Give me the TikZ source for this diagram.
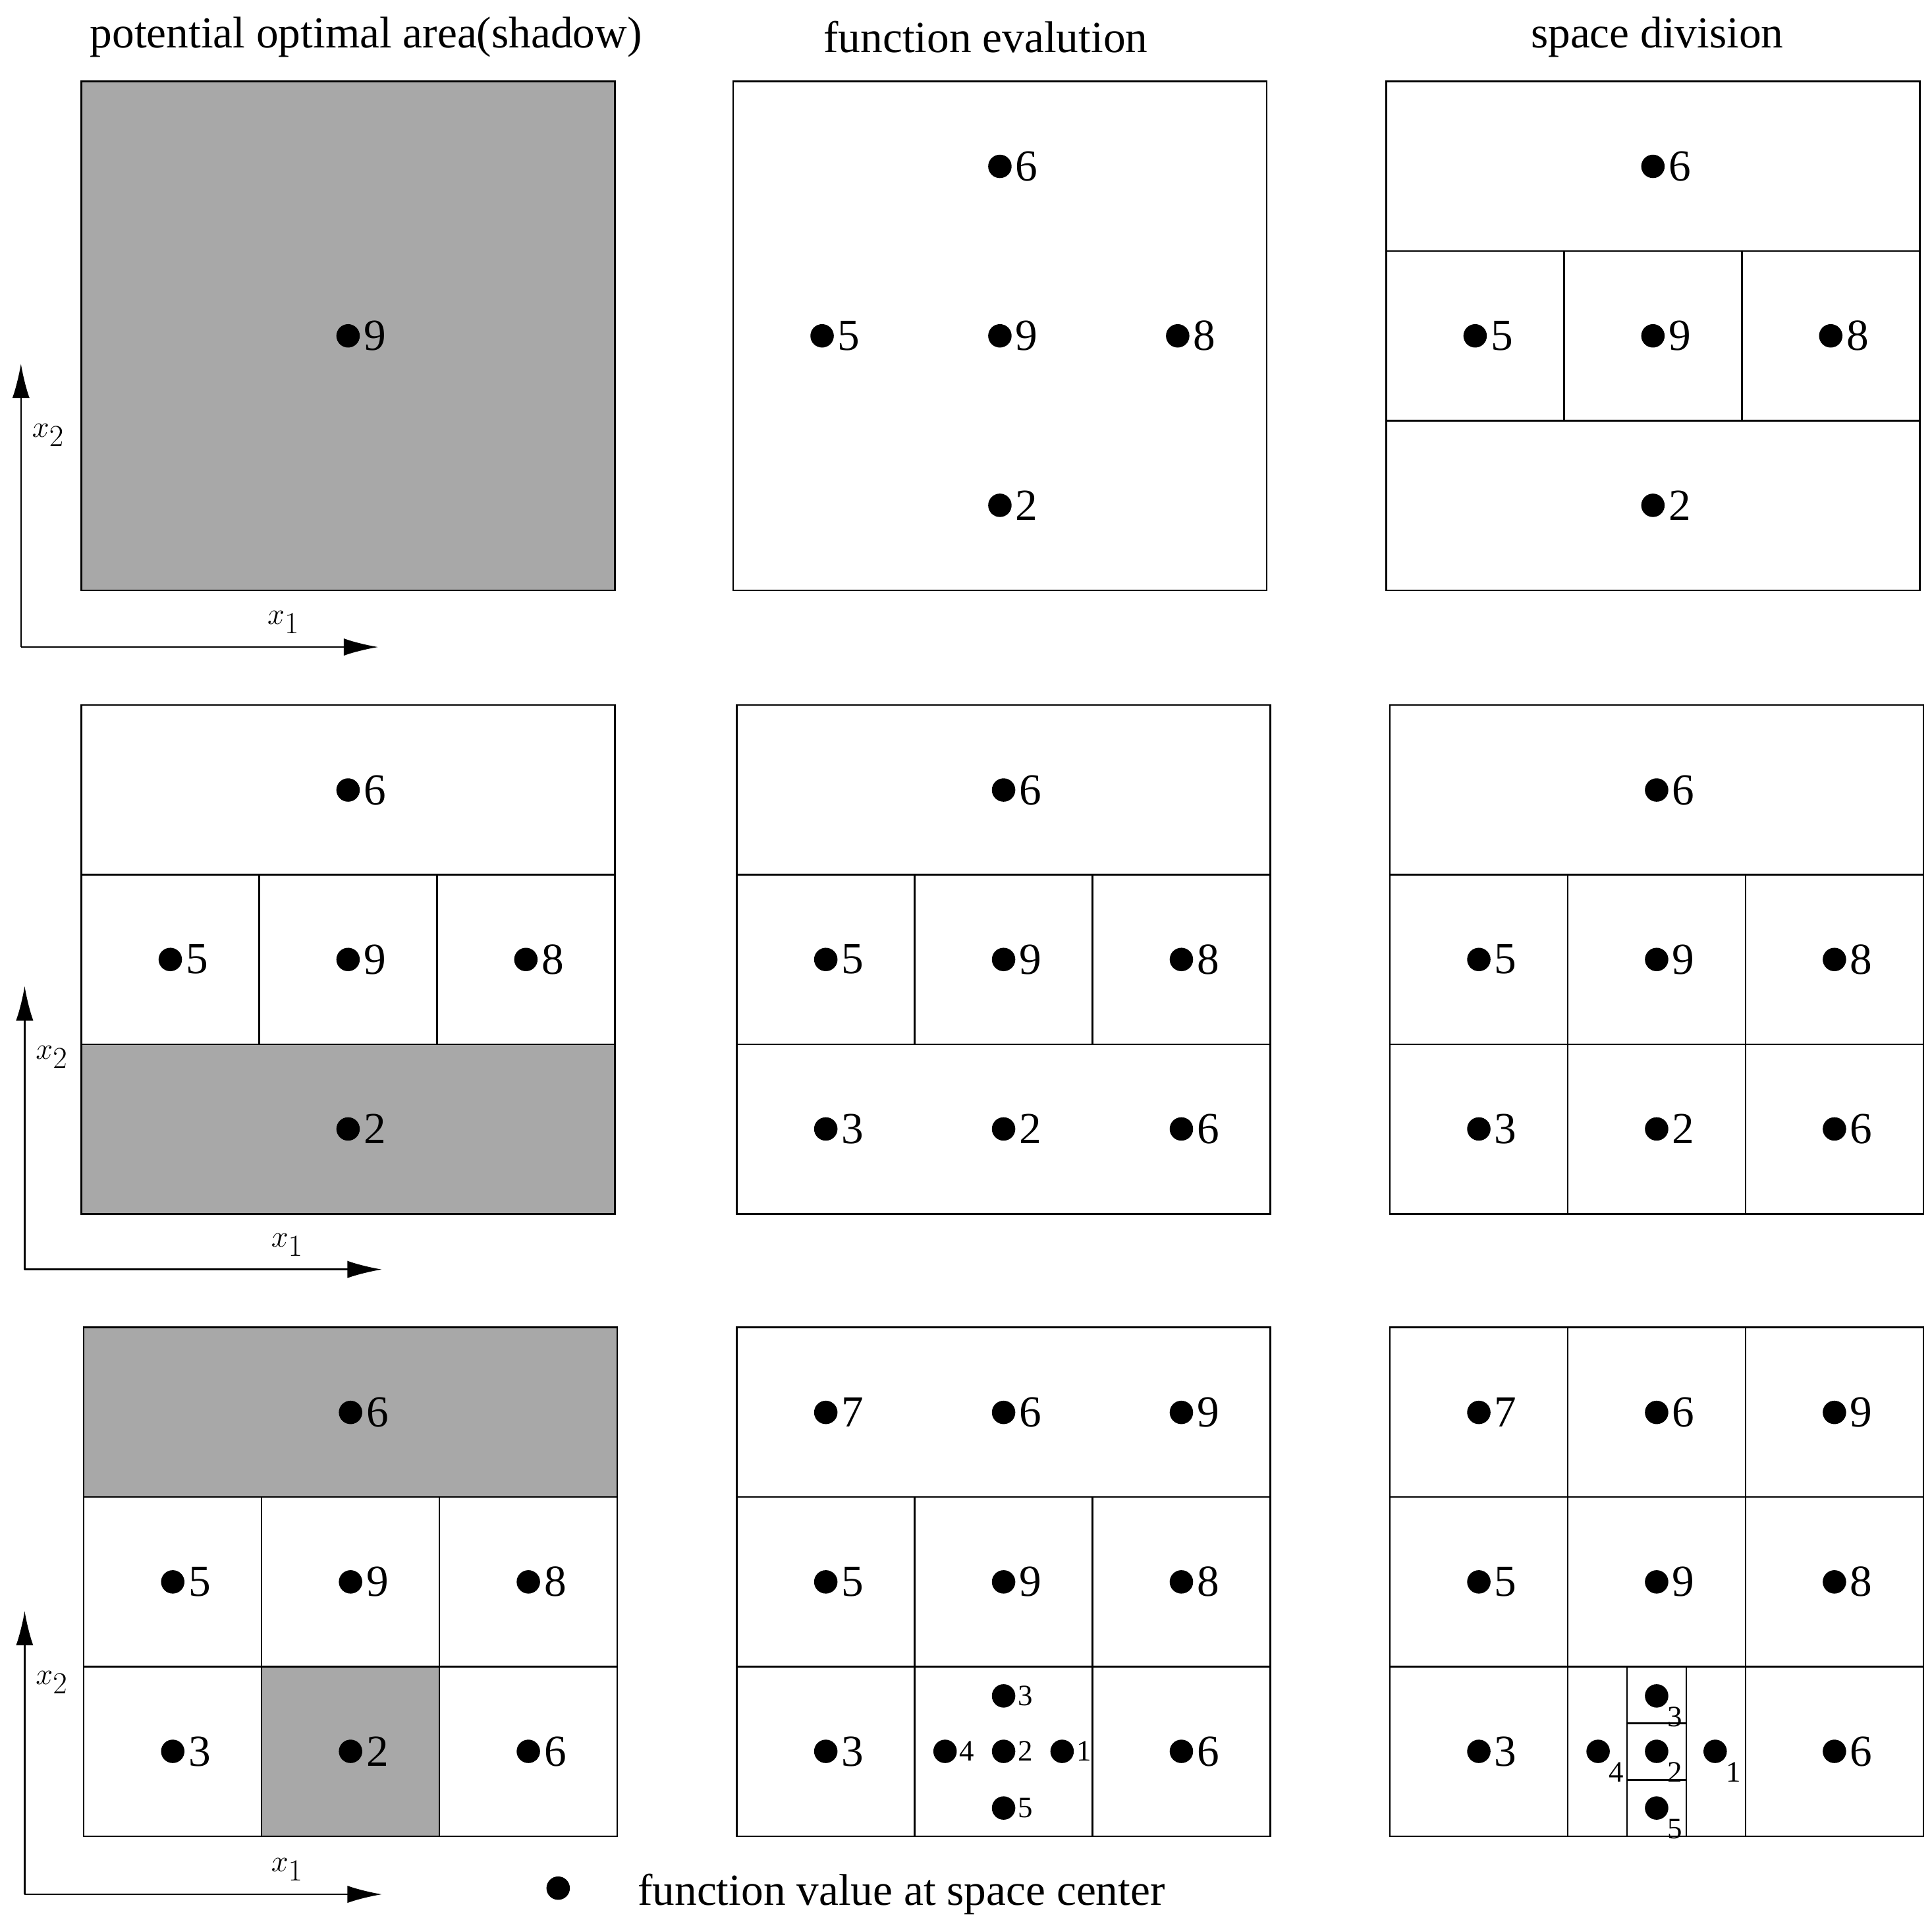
\documentclass[tikz,border=0pt]{standalone}
\usepackage{fontspec}
\setmainfont{Liberation Serif}
\usetikzlibrary{arrows.meta}
\begin{document}
\begin{tikzpicture}[x=1pt,y=-1pt,line width=1.3pt,
  dot/.style={circle,fill=black,inner sep=0pt,minimum size=19pt},
  lab/.style={font=\fontsize{36}{36}\selectfont,inner sep=2pt},
  slab/.style={font=\fontsize{24}{24}\selectfont,inner sep=1pt},
  ttl/.style={font=\fontsize{36}{36}\selectfont},
  shade/.style={fill=black!34},
  ax/.style={-{Latex[length=28pt,width=14pt]}}]
\useasboundingbox (0,0) rectangle (1568,1556);
\newcommand\dl[4]{\node[dot] (#1) at (#2,#3) {}; \node[lab,anchor=west] at (#1.east) {#4};}
\newcommand\sdl[4]{\node[dot] (#1) at (#2,#3) {}; \node[slab,anchor=north west] at (#1.south east) {#4};}
\newcommand\bx{\draw (0,0) rectangle (433,413);}
\newcommand\hlns{\draw (0,137.7) -- (433,137.7); \draw (0,275.3) -- (433,275.3);}
\newcommand\vmid{\draw (144.3,137.7) -- (144.3,275.3); \draw (288.7,137.7) -- (288.7,275.3);}
\newcommand\vbot{\draw (144.3,275.3) -- (144.3,413); \draw (288.7,275.3) -- (288.7,413);}
\newcommand\vtp{\draw (144.3,0) -- (144.3,137.7); \draw (288.7,0) -- (288.7,137.7);}
\newcommand\midrow{\dl{a5}{72.2}{206.5}{5}\dl{a9}{216.5}{206.5}{9}\dl{a8}{360.8}{206.5}{8}}
\newcommand\botrow{\dl{b3}{72.2}{344}{3}\dl{b2}{216.5}{344}{2}\dl{b6}{360.8}{344}{6}}
% titles
\node[ttl] (t1) at (297,30) {potential optimal area(shadow)};
\node[ttl] (t2) at (800,30) {function evalution};
\node[ttl] (t3) at (1345,30) {space division};
% axes
\foreach \ox/\oy/\n in {17/525/1,20/1030/2,20/1537/3}{
  \coordinate (o\n) at (\ox,\oy);
  \coordinate (ye\n) at (\ox,\oy-230);
  \coordinate (xe\n) at (\ox+290,\oy);
  \draw[ax] (o\n) -- (ye\n);
  \draw[ax] (o\n) -- (xe\n);
  \node[lab] at (\ox+22,\oy-172) {$x_2$};
  \node[lab] at (\ox+213,\oy-20) {$x_1$};
}
% row 1
\begin{scope}[shift={(66,66)}]
 \fill[shade] (0,0) rectangle (433,413); \bx
 \dl{p9}{216.5}{206.5}{9}
\end{scope}
\begin{scope}[shift={(595,66)}]
 \bx \dl{q6}{216.5}{69}{6}\midrow\dl{q2}{216.5}{344}{2}
\end{scope}
\begin{scope}[shift={(1125,66)}]
 \bx\hlns\vmid \dl{r6}{216.5}{69}{6}\midrow\dl{r2}{216.5}{344}{2}
\end{scope}
% row 2
\begin{scope}[shift={(66,572)}]
 \fill[shade] (0,275.3) rectangle (433,413);
 \bx\hlns\vmid \dl{s6}{216.5}{69}{6}\midrow\dl{s2}{216.5}{344}{2}
\end{scope}
\begin{scope}[shift={(598,572)}]
 \bx\hlns\vmid \dl{u6}{216.5}{69}{6}\midrow\botrow
\end{scope}
\begin{scope}[shift={(1128,572)}]
 \bx\hlns\vmid\vbot \dl{v6}{216.5}{69}{6}\midrow\botrow
\end{scope}
% row 3
\begin{scope}[shift={(68,1077)}]
 \fill[shade] (0,0) rectangle (433,137.7);
 \fill[shade] (144.3,275.3) rectangle (288.7,413);
 \bx\hlns\vmid\vbot \dl{w6}{216.5}{69}{6}\midrow\botrow
\end{scope}
\begin{scope}[shift={(598,1077)}]
 \bx\hlns\vmid\vbot
 \dl{c7}{72.2}{69}{7}\dl{c6}{216.5}{69}{6}\dl{c9}{360.8}{69}{9}\midrow
 \dl{b3}{72.2}{344}{3}\dl{b6}{360.8}{344}{6}
 \node[dot] (m2) at (216.5,344) {}; \node[slab,anchor=west] at (m2.east) {2};
 \node[dot] (m3) at (216.5,299) {}; \node[slab,anchor=west] at (m3.east) {3};
 \node[dot] (m5) at (216.5,390) {}; \node[slab,anchor=west] at (m5.east) {5};
 \node[dot] (m4) at (169,344) {}; \node[slab,anchor=west] at (m4.east) {4};
 \node[dot] (m1) at (264,344) {}; \node[slab,anchor=west] at (m1.east) {1};
\end{scope}
\begin{scope}[shift={(1128,1077)}]
 \bx\hlns\vmid\vbot\vtp
 \dl{d7}{72.2}{69}{7}\dl{d6}{216.5}{69}{6}\dl{d9}{360.8}{69}{9}\midrow
 \dl{b3}{72.2}{344}{3}\dl{b6}{360.8}{344}{6}
 \draw (192.6,275.3) -- (192.6,413); \draw (240.7,275.3) -- (240.7,413);
 \draw (192.6,321.2) -- (240.7,321.2); \draw (192.6,367.1) -- (240.7,367.1);
 \sdl{n3}{216.5}{299}{3}\sdl{n2}{216.5}{344}{2}\sdl{n5}{216.5}{390}{5}
 \sdl{n4}{169}{344}{4}\sdl{n1}{264}{344}{1}
\end{scope}
% legend
\node[dot] (leg) at (453,1532) {};
\node[lab,anchor=west] at (515,1537) {function value at space center};
\end{tikzpicture}
\end{document}
